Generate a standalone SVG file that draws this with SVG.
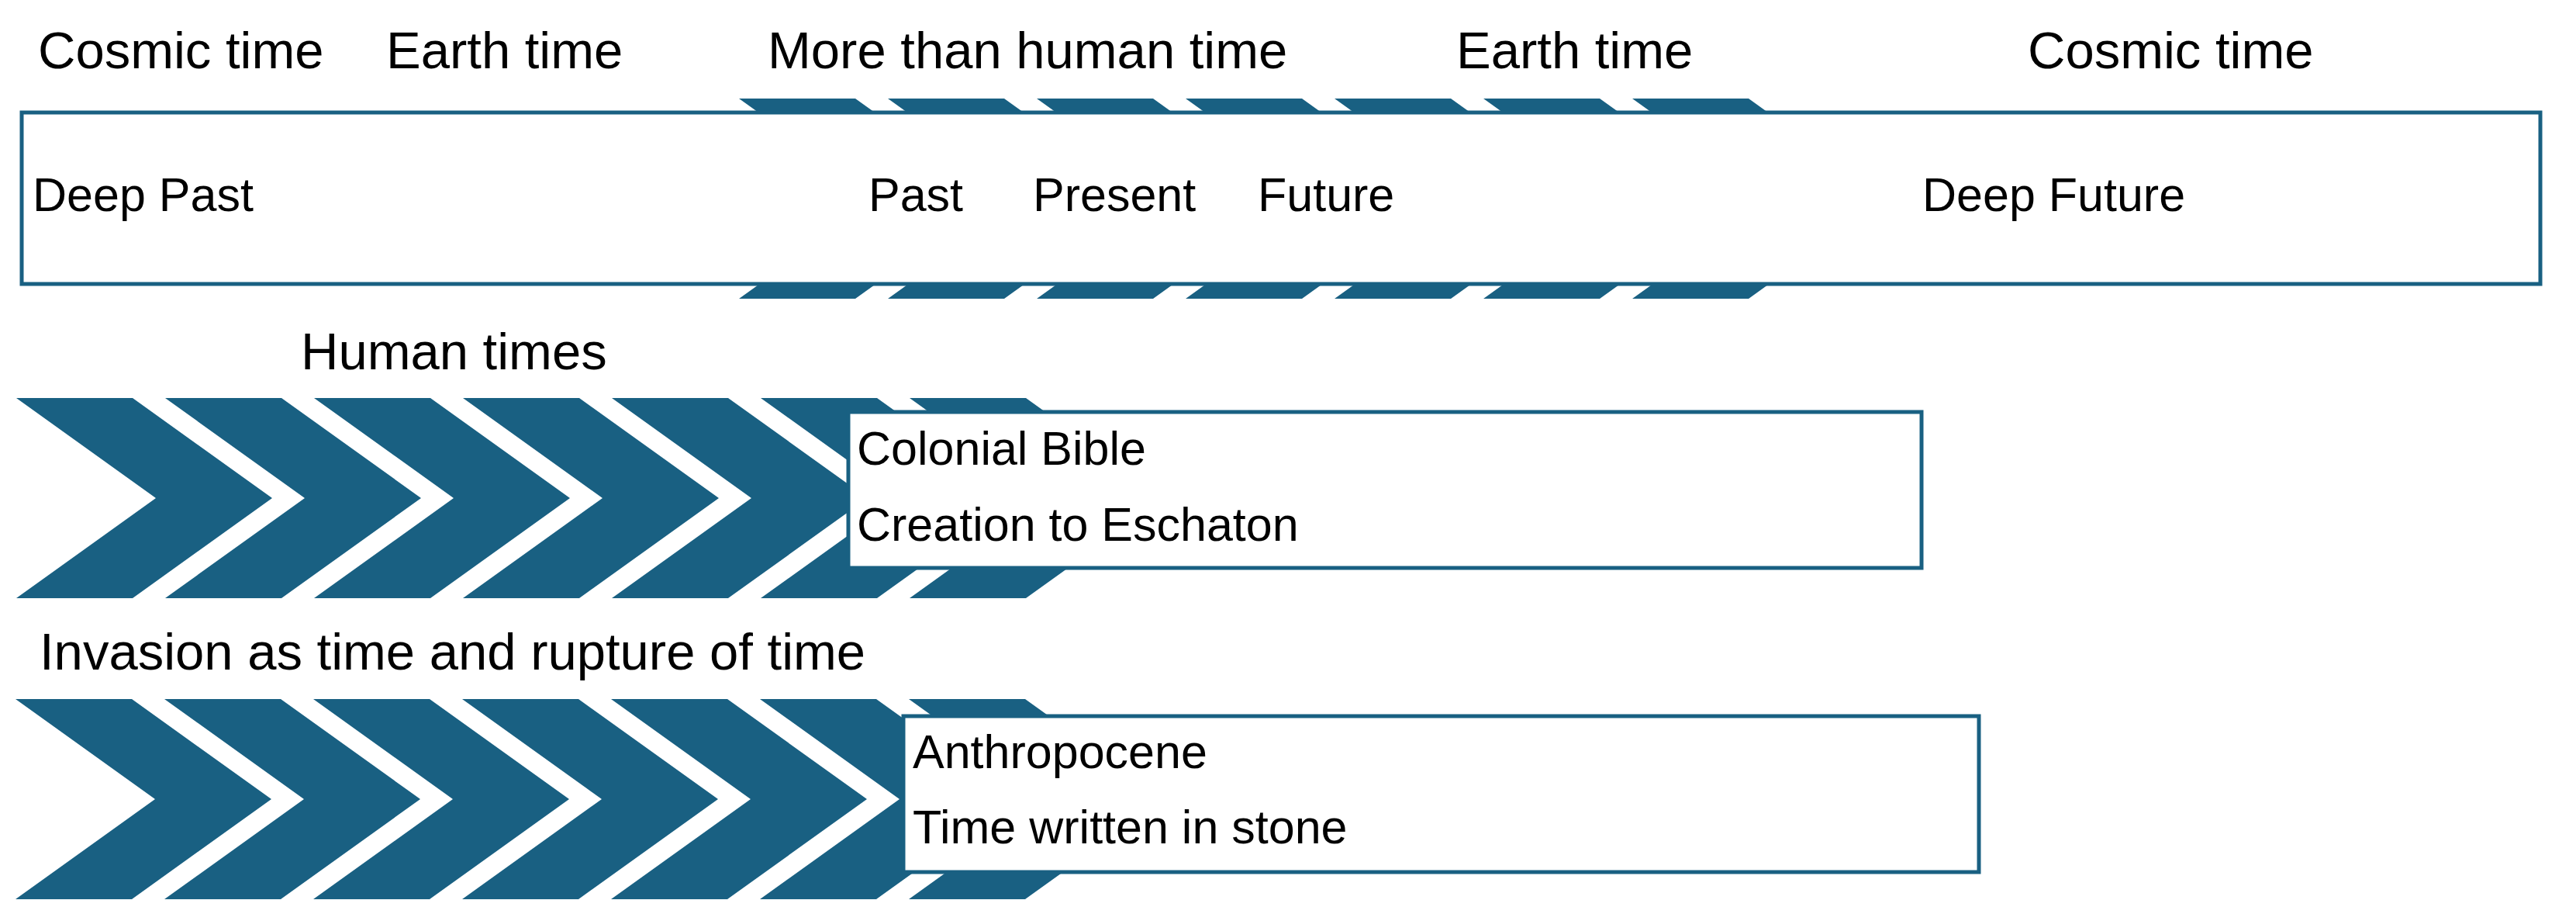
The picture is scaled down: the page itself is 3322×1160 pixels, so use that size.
<svg xmlns="http://www.w3.org/2000/svg" xmlns:xlink="http://www.w3.org/1999/xlink" width="3322" height="1160" viewBox="0 0 3322 1160">
  <style>
    .chev { fill: #196082; }
    .box { fill: #ffffff; stroke: #196082; stroke-width: 5; }
    .head { font-family: "Liberation Sans", Arial, sans-serif; font-size: 67px; fill: #000000; }
    .body { font-family: "Liberation Sans", Arial, sans-serif; font-size: 61px; fill: #000000; }
  </style>
  <defs>
    <polygon id="chevron" points="0,0 150,0 330,129 150,258 0,258 180,129"/>
  </defs>
  <rect x="0" y="0" width="3322" height="1160" fill="#ffffff"/>

  <g id="headings">
    <text class="head" x="49" y="88">Cosmic time</text>
    <text class="head" x="498" y="88">Earth time</text>
    <text class="head" x="990" y="88">More than human time</text>
    <text class="head" x="1878" y="88">Earth time</text>
    <text class="head" x="2615" y="88">Cosmic time</text>
  </g>

  <g id="row1-chevrons" class="chev">
    <use xlink:href="#chevron" href="#chevron" x="953" y="127"/>
    <use xlink:href="#chevron" href="#chevron" x="1145" y="127"/>
    <use xlink:href="#chevron" href="#chevron" x="1337" y="127"/>
    <use xlink:href="#chevron" href="#chevron" x="1529" y="127"/>
    <use xlink:href="#chevron" href="#chevron" x="1721" y="127"/>
    <use xlink:href="#chevron" href="#chevron" x="1913" y="127"/>
    <use xlink:href="#chevron" href="#chevron" x="2105" y="127"/>
  </g>

  <g id="timeline-box">
    <rect class="box" x="28" y="145" width="3248" height="221"/>
    <text class="body" x="42" y="272">Deep Past</text>
    <text class="body" x="1120" y="272">Past</text>
    <text class="body" x="1332" y="272">Present</text>
    <text class="body" x="1622" y="272">Future</text>
    <text class="body" x="2479" y="272">Deep Future</text>
  </g>

  <g id="human-times-label">
    <text class="head" x="388" y="476">Human times</text>
  </g>

  <g id="row2-chevrons" class="chev">
    <use xlink:href="#chevron" href="#chevron" x="21" y="513"/>
    <use xlink:href="#chevron" href="#chevron" x="213" y="513"/>
    <use xlink:href="#chevron" href="#chevron" x="405" y="513"/>
    <use xlink:href="#chevron" href="#chevron" x="597" y="513"/>
    <use xlink:href="#chevron" href="#chevron" x="789" y="513"/>
    <use xlink:href="#chevron" href="#chevron" x="981" y="513"/>
    <use xlink:href="#chevron" href="#chevron" x="1173" y="513"/>
  </g>

  <g id="colonial-bible-box">
    <rect class="box" x="1094" y="531" width="1384" height="201"/>
    <text class="body" x="1105" y="599">Colonial Bible</text>
    <text class="body" x="1105" y="697">Creation to Eschaton</text>
  </g>

  <g id="invasion-label">
    <text class="head" x="51" y="863">Invasion as time and rupture of time</text>
  </g>

  <g id="row3-chevrons" class="chev">
    <use xlink:href="#chevron" href="#chevron" x="20" y="901"/>
    <use xlink:href="#chevron" href="#chevron" x="212" y="901"/>
    <use xlink:href="#chevron" href="#chevron" x="404" y="901"/>
    <use xlink:href="#chevron" href="#chevron" x="596" y="901"/>
    <use xlink:href="#chevron" href="#chevron" x="788" y="901"/>
    <use xlink:href="#chevron" href="#chevron" x="980" y="901"/>
    <use xlink:href="#chevron" href="#chevron" x="1172" y="901"/>
  </g>

  <g id="anthropocene-box">
    <rect class="box" x="1165" y="923" width="1387" height="201"/>
    <text class="body" x="1177" y="990">Anthropocene</text>
    <text class="body" x="1177" y="1087">Time written in stone</text>
  </g>
</svg>
